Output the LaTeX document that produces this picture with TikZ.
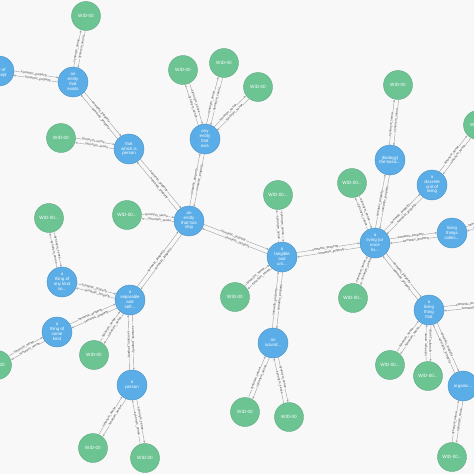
\documentclass[tikz,border=0pt]{standalone}
\usepackage{fontspec}
\setmainfont{Liberation Sans}
\usetikzlibrary{calc,arrows.meta}
\pgfdeclarelayer{bglayer}
\pgfdeclarelayer{edgelayer}
\pgfsetlayers{bglayer,edgelayer,main}
\definecolor{bg}{HTML}{F8F8F8}
\definecolor{nblue}{HTML}{5AADE6}
\definecolor{ngreen}{HTML}{6CC493}
\definecolor{egray}{HTML}{A0A0A0}
\tikzset{
  bnode/.style={circle,fill=nblue,draw=nblue!85!black,line width=0.4pt,minimum size=30pt,inner sep=0pt,text=white,align=center,font=\fontsize{4.4}{4.8}\selectfont},
  gnode/.style={circle,fill=ngreen,draw=ngreen!85!black,line width=0.4pt,minimum size=29pt,inner sep=0pt,text=white,align=center,font=\fontsize{4.6}{5}\selectfont},
  edge/.style={draw=egray,line width=0.4pt,shorten >=15pt,shorten <=15pt,-{Stealth[length=2.2pt,width=2pt]}},
  elab/.style={sloped,fill=bg,inner sep=0.2pt,text=black!75,font=\fontsize{3.2}{3.4}\selectfont}
}
\newcommand{\rel}[3]{%
  \draw[edge] ($(#1.center)!2.2pt!90:(#2.center)$) -- node[elab,pos=0.47]{#3} ($(#2.center)!2.2pt!-90:(#1.center)$);
  \draw[edge] ($(#2.center)!2.2pt!90:(#1.center)$) -- node[elab,pos=0.47]{#3} ($(#1.center)!2.2pt!-90:(#2.center)$);
}
\newcommand{\semp}{semantic\_property}
\newcommand{\syns}{synonym\_sense}
\begin{document}
\begin{tikzpicture}[x=1pt,y=-1pt]
\useasboundingbox (0,0) rectangle (474,474);
\begin{pgfonlayer}{bglayer}
\fill[bg] (0,0) rectangle (474,474);
\end{pgfonlayer}
\clip (0,0) rectangle (474,474);
% blue nodes
\node[bnode] (b1) at (73,82) {an\\entity\\that\\exists};
\node[bnode] (b2) at (-1,71) {a\\kind of\\concept};
\node[bnode] (b3) at (129,149) {that\\which is\\person};
\node[bnode] (b4) at (205,139) {any\\entity\\that\\exis};
\node[bnode] (b5) at (189,221) {an\\entity\\that has\\ship};
\node[bnode] (b6) at (282,257) {a\\tangible\\and\\uni...};
\node[bnode] (b7) at (273,343) {an\\sciurid...};
\node[bnode] (b8) at (375,243) {a\\living (or\\once\\liv...};
\node[bnode] (b9) at (390,160) {(biology)\\the basic...};
\node[bnode] (b10) at (432,185) {a\\discrete\\unit of\\living};
\node[bnode] (b11) at (452,233) {living\\things\\collec...};
\node[bnode] (b12) at (429,310) {a\\living\\thing\\that};
\node[bnode] (b13) at (463,386) {organic...};
\node[bnode] (b14) at (130,300) {a\\separable\\and\\self...};
\node[bnode] (b15) at (62,282) {a\\thing of\\any kind\\so...};
\node[bnode] (b16) at (57,332) {a\\thing of\\some\\kind};
\node[bnode] (b17) at (132,385) {a\\person};
% green nodes
\node[gnode] (g1) at (86,16) {WID-00};
\node[gnode] (g2) at (61,138) {WID-00};
\node[gnode] (g3) at (183,70) {WID-00};
\node[gnode] (g4) at (224,63) {WID-00};
\node[gnode] (g5) at (258,87) {WID-00};
\node[gnode] (g6) at (278,195) {WID-00...};
\node[gnode] (g7) at (235,297) {WID-00};
\node[gnode] (g8) at (127,215) {WID-00...};
\node[gnode] (g9) at (49,218) {WID-00...};
\node[gnode] (g11) at (398,85) {WID-00};
\node[gnode] (g12) at (352,183) {WID-00...};
\node[gnode] (g13) at (478,125) {WID-00};
\node[gnode] (g15) at (353,298) {WID-00...};
\node[gnode] (g16) at (390,365) {WID-00...};
\node[gnode] (g17) at (452,457) {WID-00...};
\node[gnode] (g18) at (94,355) {WID-00};
\node[gnode] (g19) at (-3,365) {WID-00};
\node[gnode] (g20) at (93,448) {WID-00};
\node[gnode] (g21) at (145,458) {WID-00};
\node[gnode] (g22) at (245,412) {WID-00};
\node[gnode] (g23) at (289,417) {WID-00};
\node[gnode] (g24) at (428,376) {WID-00...};
\coordinate (off1) at (515,215);
\coordinate (off2) at (515,302);
% edges
\begin{pgfonlayer}{edgelayer}
\rel{b1}{g1}{\syns}
\rel{b1}{b2}{\semp}
\rel{b1}{b3}{\semp}
\rel{b3}{g2}{\syns}
\rel{b3}{b5}{\semp}
\rel{b4}{g3}{\syns}
\rel{b4}{g4}{\syns}
\rel{b4}{g5}{\syns}
\rel{b4}{b5}{\semp}
\rel{b5}{g8}{\syns}
\rel{b5}{b6}{\semp}
\rel{b5}{b14}{\semp}
\rel{b6}{g6}{\syns}
\rel{b6}{g7}{\syns}
\rel{b6}{b7}{\semp}
\rel{b6}{b8}{\semp}
\rel{b7}{g22}{\syns}
\rel{b7}{g23}{\syns}
\rel{b8}{b9}{\semp}
\rel{b8}{g12}{\syns}
\rel{b8}{b10}{\semp}
\rel{b8}{b11}{\semp}
\rel{b8}{g15}{\syns}
\rel{b8}{b12}{\semp}
\rel{b9}{g11}{\syns}
\rel{b10}{g13}{\syns}
\rel{b11}{off1}{\semp}
\rel{b12}{off2}{\semp}
\rel{b12}{g16}{\syns}
\rel{b12}{g24}{\syns}
\rel{b12}{b13}{\semp}
\rel{b13}{g17}{\syns}
\rel{b14}{b15}{\semp}
\rel{b14}{b16}{\semp}
\rel{b14}{g18}{\syns}
\rel{b14}{b17}{\semp}
\rel{b15}{g9}{\syns}
\rel{b16}{g19}{\syns}
\rel{b17}{g20}{\syns}
\rel{b17}{g21}{\syns}
\end{pgfonlayer}
\end{tikzpicture}
\end{document}
